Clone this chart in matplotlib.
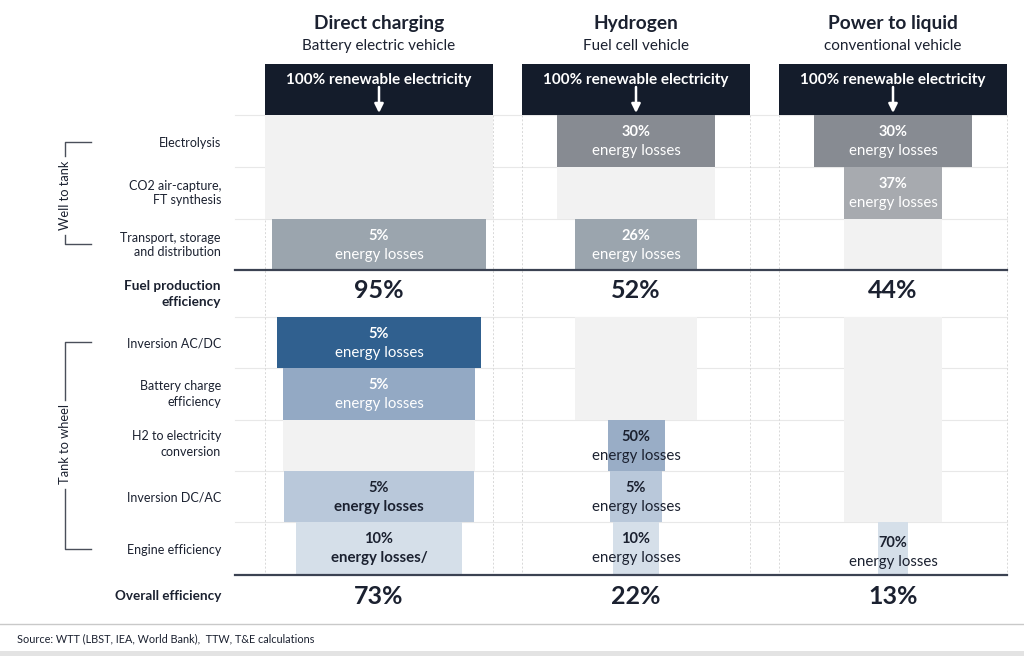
import matplotlib
matplotlib.use('Agg')
import matplotlib.pyplot as plt

plt.rcParams['font.family'] = ['Lato', 'DejaVu Sans']

# chart data
columns = ['Direct charging', 'Hydrogen', 'Power to liquid']
subtitles = ['Battery electric vehicle', 'Fuel cell vehicle', 'conventional vehicle']
source_label = '100% renewable electricity'

wtt_steps = ['Electrolysis', 'CO2 air-capture,\nFT synthesis',
             'Transport, storage\nand distribution']
ttw_steps = ['Inversion AC/DC', 'Battery charge\nefficiency',
             'H2 to electricity\nconversion', 'Inversion DC/AC', 'Engine efficiency']

# remaining energy share going into each step (bar width)
dc_share = [1.0, 1.0, 0.94, 0.895, 0.84, 0.84, 0.83, 0.725]
h2_share = [0.695, 0.695, 0.533, 0.535, 0.535, 0.25, 0.23, 0.20]
ptl_share = [0.693, 0.43, 0.43, 0.43, 0.43, 0.43, 0.43, 0.132]

# energy loss of each step in % (None = step not used)
dc_loss = [None, None, 5, 5, 5, None, 5, 10]
h2_loss = [30, None, 26, None, None, 50, 5, 10]
ptl_loss = [30, 37, None, None, None, None, None, 70]

fuel_eff = [95, 52, 44]
overall_eff = [73, 22, 13]

step_colors = ['#878b92', '#a7aaaf', '#9ba5ae', '#30608f',
               '#93a9c4', '#99adc6', '#b9c8da', '#d5dfe9']
dark_text = [False, False, False, False, False, True, True, True]

# layout in pixels
W, H = 1024, 656
col_left = [265, 522, 779]
col_w = 228
row_tops = [115, 167, 219, 317, 368, 420, 471, 522]
row_bots = [167, 219, 270, 368, 420, 471, 522, 575]
navy = '#141c2b'
ink = '#1b2130'

fig = plt.figure(figsize=(W / 100, H / 100), dpi=100)
ax = fig.add_axes([0, 0, 1, 1])
ax.set_xlim(0, W)
ax.set_ylim(H, 0)
ax.axis('off')

# grid
for y in [115, 167, 219, 317, 368, 420, 471, 522]:
    ax.plot([235, 1007], [y, y], color='#e8e8e8', lw=0.8, zorder=1)
for x0 in col_left:
    for x in (x0, x0 + col_w):
        ax.plot([x, x], [115, 575], color='#d8d8d8', lw=0.7,
                ls=(0, (2, 2)), zorder=1)

shares = [dc_share, h2_share, ptl_share]
losses = [dc_loss, h2_loss, ptl_loss]

for c in range(3):
    cx = col_left[c] + col_w / 2
    ax.text(cx, 24, columns[c], ha='center', va='center', fontsize=13.8,
            fontweight='bold', color=ink)
    ax.text(cx, 46, subtitles[c], ha='center', va='center', fontsize=11,
            color=ink)
    ax.bar(cx, 51, width=col_w, bottom=64, color=navy, zorder=2)
    ax.text(cx, 80, source_label, ha='center', va='center', fontsize=11,
            fontweight='bold', color='white', zorder=3)
    ax.annotate('', xy=(cx, 113), xytext=(cx, 87), zorder=3,
                arrowprops=dict(arrowstyle='-|>', color='white', lw=1.8,
                                mutation_scale=13, shrinkA=0, shrinkB=0))

    for i in range(8):
        top, bot = row_tops[i], row_bots[i]
        loss = losses[c][i]
        color = '#f2f2f2' if loss is None else step_colors[i]
        ax.bar(cx, bot - top, width=shares[c][i] * col_w, bottom=top,
               color=color, lw=0, zorder=2)
        if loss is None:
            continue
        tc = ink if dark_text[i] else 'white'
        second = 'energy losses'
        weight2 = 'normal'
        if c == 0 and i >= 6:
            weight2 = 'bold'
            if i == 7:
                second = 'energy losses/'
        off = 4 if (c == 2 and i == 7) else 0
        ax.text(cx, top + 17 + off, f'{loss}%', ha='center', va='center',
                fontsize=10.5, fontweight='bold', color=tc, zorder=3)
        ax.text(cx, top + 36 + off, second, ha='center', va='center',
                fontsize=10.8, fontweight=weight2, color=tc, zorder=3)

    ax.text(cx, 290, f'{fuel_eff[c]}%', ha='center', va='center',
            fontsize=18, fontweight='bold', color=ink)
    ax.text(cx, 596, f'{overall_eff[c]}%', ha='center', va='center',
            fontsize=18, fontweight='bold', color=ink)

# thick separators
for y in (270, 575):
    ax.plot([235, 1007], [y, y], color='#3b4252', lw=1.6, zorder=4)

# row labels
label_y = [143, 193, 245, 343, 394, 444, 497, 550]
for lbl, y in zip(wtt_steps + ttw_steps, label_y):
    ax.text(221, y, lbl, ha='right', va='center', fontsize=9, color=ink,
            linespacing=1.3)
ax.text(221, 294, 'Fuel production\nefficiency', ha='right', va='center',
        fontsize=9.8, fontweight='bold', color=ink, linespacing=1.45)
ax.text(221, 596, 'Overall efficiency', ha='right', va='center',
        fontsize=9.7, fontweight='bold', color=ink)

# brackets
bc = '#4a4f5a'
ax.plot([91, 65, 65], [142, 142, 156], color=bc, lw=1)
ax.plot([65, 65, 91], [235, 244, 244], color=bc, lw=1)
ax.text(65, 195, 'Well to tank', rotation=90, ha='center', va='center',
        fontsize=9.3, color=ink)
ax.plot([91, 65, 65], [342, 342, 400], color=bc, lw=1)
ax.plot([65, 65, 91], [489, 549, 549], color=bc, lw=1)
ax.text(65, 444, 'Tank to wheel', rotation=90, ha='center', va='center',
        fontsize=9.3, color=ink)

# footer
ax.plot([0, W], [624, 624], color='#c9c9c9', lw=1)
ax.text(17, 639, 'Source: WTT (LBST, IEA, World Bank),  TTW, T&E calculations',
        ha='left', va='center', fontsize=7.8, color=ink)
ax.bar(W / 2, 5, width=W, bottom=651, color='#e3e3e3', lw=0)

fig.savefig('out.png', dpi=100)
